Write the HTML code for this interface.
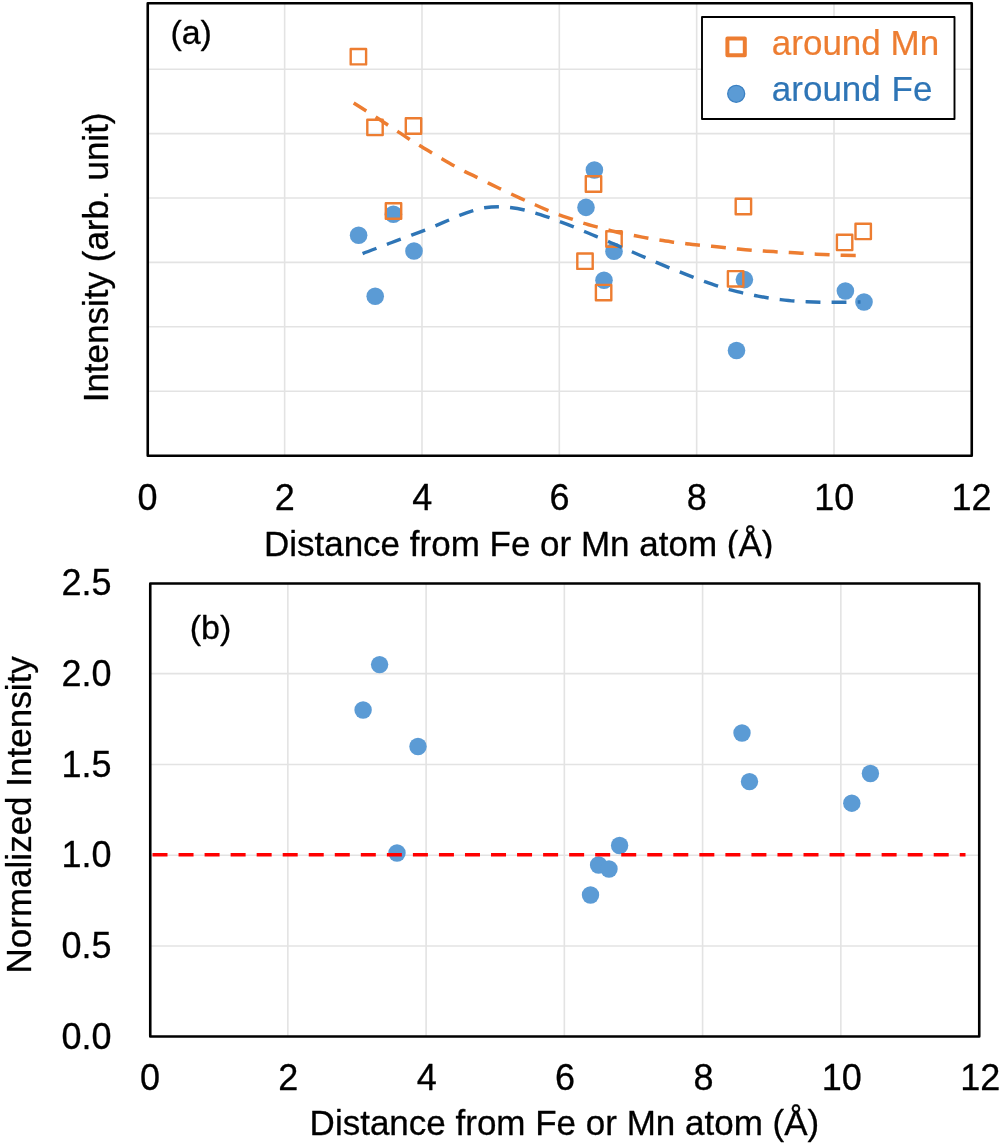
<!DOCTYPE html>
<html lang="en"><head><meta charset="utf-8"><title>Intensity vs distance from Fe or Mn atom</title>
<style>html,body{margin:0;padding:0;background:#fff}body{width:1000px;height:1147px;overflow:hidden}</style></head>
<body>
<svg width="1000" height="1147" viewBox="0 0 1000 1147" style="display:block;font-family:'Liberation Sans', Arial, Helvetica, sans-serif" fill="#000" stroke="#000" stroke-width="0.3" stroke-linejoin="round">
<rect x="0" y="0" width="1000" height="1147" fill="#fff" stroke="none"/>
<g stroke="#e3e3e3" stroke-width="1.6" fill="none">
<line x1="284.64" y1="3.25" x2="284.64" y2="455.75"/>
<line x1="421.98" y1="3.25" x2="421.98" y2="455.75"/>
<line x1="559.32" y1="3.25" x2="559.32" y2="455.75"/>
<line x1="696.66" y1="3.25" x2="696.66" y2="455.75"/>
<line x1="834.00" y1="3.25" x2="834.00" y2="455.75"/>
<line x1="147.75" y1="69.20" x2="971.75" y2="69.20"/>
<line x1="147.75" y1="133.60" x2="971.75" y2="133.60"/>
<line x1="147.75" y1="198.00" x2="971.75" y2="198.00"/>
<line x1="147.75" y1="262.40" x2="971.75" y2="262.40"/>
<line x1="147.75" y1="326.80" x2="971.75" y2="326.80"/>
<line x1="147.75" y1="391.20" x2="971.75" y2="391.20"/>
<line x1="287.85" y1="583.5" x2="287.85" y2="1036.5"/>
<line x1="426.10" y1="583.5" x2="426.10" y2="1036.5"/>
<line x1="564.35" y1="583.5" x2="564.35" y2="1036.5"/>
<line x1="702.60" y1="583.5" x2="702.60" y2="1036.5"/>
<line x1="840.85" y1="583.5" x2="840.85" y2="1036.5"/>
<line x1="150.25" y1="673.67" x2="979.25" y2="673.67"/>
<line x1="150.25" y1="764.44" x2="979.25" y2="764.44"/>
<line x1="150.25" y1="855.21" x2="979.25" y2="855.21"/>
<line x1="150.25" y1="945.98" x2="979.25" y2="945.98"/>
</g>
<g fill="#5B9BD5" stroke="none">
<circle cx="358.6" cy="235.2" r="8.8"/>
<circle cx="375.2" cy="296.3" r="8.8"/>
<circle cx="393.4" cy="214.3" r="8.8"/>
<circle cx="414" cy="251" r="8.8"/>
<circle cx="594.4" cy="170" r="8.8"/>
<circle cx="586" cy="207.4" r="8.8"/>
<circle cx="614" cy="251.3" r="8.8"/>
<circle cx="604" cy="280.2" r="8.8"/>
<circle cx="744.4" cy="279.6" r="8.8"/>
<circle cx="736.5" cy="350.5" r="8.8"/>
<circle cx="845.4" cy="291" r="8.8"/>
<circle cx="864" cy="302" r="8.8"/>
</g>
<g fill="none" stroke="#ED7D31" stroke-width="2.4" stroke-linejoin="round">
<rect x="350.70" y="49.00" width="15.4" height="15.4"/>
<rect x="367.30" y="119.70" width="15.4" height="15.4"/>
<rect x="405.80" y="118.30" width="15.4" height="15.4"/>
<rect x="385.80" y="203.30" width="15.4" height="15.4"/>
<rect x="585.80" y="176.30" width="15.4" height="15.4"/>
<rect x="577.30" y="253.50" width="15.4" height="15.4"/>
<rect x="606.30" y="231.30" width="15.4" height="15.4"/>
<rect x="595.90" y="284.90" width="15.4" height="15.4"/>
<rect x="735.70" y="198.80" width="15.4" height="15.4"/>
<rect x="727.90" y="271.10" width="15.4" height="15.4"/>
<rect x="836.90" y="234.70" width="15.4" height="15.4"/>
<rect x="855.50" y="223.70" width="15.4" height="15.4"/>
</g>
<path d="M353.7 103.1C355.9 104.5 362.8 108.8 366.7 111.3C370.6 113.8 373.6 115.6 377.2 118.0C380.8 120.3 385.0 123.2 388.5 125.5C392.0 127.8 394.6 129.5 398.2 131.9C401.8 134.2 406.6 137.4 410.2 139.8C413.8 142.1 416.2 143.5 420.0 145.8C423.8 148.0 429.0 151.2 432.7 153.4C436.4 155.6 438.5 156.8 442.2 158.9C445.9 161.1 451.0 164.1 454.8 166.2C458.6 168.3 461.6 169.8 465.0 171.6C468.4 173.3 469.3 173.7 475.0 176.4C480.7 179.2 491.5 184.6 499.0 188.2C506.5 191.8 513.9 195.2 520.0 198.1C526.1 200.9 530.8 202.9 535.6 205.0C540.4 207.2 544.9 209.1 549.0 210.8C553.1 212.5 556.0 213.6 560.0 215.1C564.0 216.5 569.0 218.1 573.0 219.5C577.0 220.8 579.8 222.0 584.0 223.3C588.2 224.6 593.7 226.1 598.0 227.3C602.3 228.5 605.8 229.4 610.0 230.4C614.2 231.4 618.8 232.6 623.0 233.5C627.2 234.4 631.1 235.0 635.4 235.8C639.7 236.6 644.7 237.6 649.0 238.4C653.3 239.1 656.8 239.7 661.0 240.3C665.2 241.0 669.7 241.6 674.0 242.2C678.3 242.7 682.3 243.1 686.6 243.7C690.9 244.2 695.8 244.8 700.0 245.2C704.2 245.6 707.6 245.9 712.0 246.3C716.4 246.8 722.0 247.4 726.4 247.9C730.8 248.4 734.1 248.6 738.4 249.1C742.7 249.5 748.1 250.0 752.4 250.4C756.7 250.7 759.7 250.8 764.0 251.1C768.3 251.3 774.1 251.7 778.4 252.0C782.7 252.2 785.7 252.3 790.0 252.5C794.3 252.8 800.0 253.2 804.4 253.4C808.8 253.7 812.1 254.0 816.4 254.2C820.7 254.4 826.1 254.7 830.4 254.9C834.7 255.1 838.0 255.2 842.4 255.3C846.8 255.4 854.6 255.4 857.0 255.4" fill="none" stroke="#ED7D31" stroke-width="3.5" stroke-dasharray="14.8 11.2"/>
<path d="M362.6 253.6C364.8 252.7 371.9 250.0 376.0 248.5C380.1 246.9 383.0 245.8 387.0 244.3C391.0 242.8 395.9 240.9 400.0 239.4C404.1 237.9 407.4 236.7 411.6 235.1C415.8 233.6 420.9 231.7 425.0 230.1C429.1 228.5 432.0 227.3 436.0 225.6C440.0 223.9 445.1 221.7 449.0 220.0C452.9 218.3 455.7 216.9 459.6 215.4C463.5 213.8 468.3 212.0 472.4 210.8C476.5 209.5 480.0 208.5 484.4 207.8C488.8 207.2 494.7 206.8 499.0 206.7C503.3 206.6 505.8 206.9 510.0 207.5C514.2 208.0 520.1 209.0 524.4 210.0C528.7 211.0 531.3 211.9 535.6 213.2C539.9 214.5 545.8 216.5 550.0 217.9C554.2 219.4 556.8 220.4 560.6 221.9C564.4 223.3 568.9 225.0 573.0 226.6C577.1 228.3 580.9 230.0 585.0 231.7C589.1 233.5 593.5 235.3 597.6 237.0C601.7 238.7 605.3 240.2 609.4 242.0C613.5 243.7 618.1 245.8 622.0 247.5C625.9 249.2 629.1 250.5 633.0 252.2C636.9 253.9 641.7 256.0 645.6 257.7C649.5 259.4 652.4 260.7 656.4 262.4C660.4 264.1 665.4 266.2 669.4 267.8C673.4 269.4 676.4 270.6 680.4 272.2C684.4 273.8 689.5 275.8 693.6 277.4C697.7 279.0 700.9 280.2 705.0 281.7C709.1 283.1 713.9 284.8 718.0 286.1C722.1 287.4 725.3 288.4 729.6 289.6C733.9 290.7 739.4 292.2 743.6 293.2C747.8 294.1 750.8 294.6 755.0 295.5C759.2 296.3 764.7 297.4 769.0 298.1C773.3 298.8 776.3 299.1 780.6 299.6C784.9 300.1 790.3 300.7 794.6 301.0C798.9 301.4 802.3 301.5 806.6 301.7C810.9 301.9 816.3 302.1 820.6 302.2C824.9 302.2 828.3 302.2 832.6 302.2C836.9 302.3 842.0 302.3 846.6 302.2C851.2 302.2 858.2 302.0 860.5 302.0" fill="none" stroke="#2E75B6" stroke-width="3.4" stroke-dasharray="14.8 11.2"/>
<rect x="147.75" y="3.25" width="824.0" height="452.5" fill="none" stroke="#000" stroke-width="2.6" stroke-linejoin="round"/>
<rect x="702" y="17" width="252.5" height="102" fill="#fff" stroke="#000" stroke-width="1.9"/>
<rect x="727.4" y="38.5" width="17.4" height="16.7" fill="#fff" stroke="#ED7D31" stroke-width="4"/>
<circle cx="736.2" cy="93.8" r="8.5" fill="#5B9BD5" stroke="#3B80C2" stroke-width="1.3"/>
<text x="771.8" y="54.9" font-size="35" fill="#ED7D31" stroke="#ED7D31" stroke-width="0.2">around Mn</text>
<text x="771.8" y="100.9" font-size="35" word-spacing="1" fill="#2E75B6" stroke="#2E75B6" stroke-width="0.2">around Fe</text>
<text x="170.4" y="43.5" font-size="34">(a)</text>
<g font-size="36" text-anchor="middle">
<text x="147.50" y="509.5">0</text>
<text x="284.84" y="509.5">2</text>
<text x="422.18" y="509.5">4</text>
<text x="559.52" y="509.5">6</text>
<text x="696.86" y="509.5">8</text>
<text x="834.20" y="509.5">10</text>
<text x="971.54" y="509.5">12</text>
</g>
<text x="518.7" y="556.1" font-size="35" text-anchor="middle">Distance from Fe or Mn atom (Å)</text>
<rect x="200" y="558.4" width="650" height="14" fill="#fff" stroke="none"/>
<text transform="translate(108.2 257.4) rotate(-90)" font-size="35" text-anchor="middle">Intensity (arb. unit)</text>
<g fill="#5B9BD5" stroke="none">
<circle cx="379.6" cy="664.6" r="8.7"/>
<circle cx="363.1" cy="710" r="8.7"/>
<circle cx="418" cy="746.5" r="8.7"/>
<circle cx="397" cy="853" r="8.7"/>
<circle cx="619.6" cy="845.5" r="8.7"/>
<circle cx="598.6" cy="865" r="8.7"/>
<circle cx="609" cy="869" r="8.7"/>
<circle cx="590.5" cy="895" r="8.7"/>
<circle cx="742" cy="733" r="8.7"/>
<circle cx="749.5" cy="781.6" r="8.7"/>
<circle cx="870.4" cy="773.5" r="8.7"/>
<circle cx="851.8" cy="803.2" r="8.7"/>
</g>
<line x1="152.5" y1="854.7" x2="965.5" y2="854.7" stroke="#FF0000" stroke-width="3.6" stroke-dasharray="15 11.04"/>
<rect x="150.25" y="583.5" width="829.0" height="453.0" fill="none" stroke="#000" stroke-width="2.6" stroke-linejoin="round"/>
<text x="189.8" y="638.8" font-size="34">(b)</text>
<g font-size="36" text-anchor="middle">
<text x="149.90" y="1090">0</text>
<text x="288.28" y="1090">2</text>
<text x="426.65" y="1090">4</text>
<text x="565.02" y="1090">6</text>
<text x="703.40" y="1090">8</text>
<text x="841.77" y="1090">10</text>
<text x="980.15" y="1090">12</text>
</g>
<g font-size="36" text-anchor="end">
<text x="111.5" y="595.10">2.5</text>
<text x="111.5" y="685.87">2.0</text>
<text x="111.5" y="776.64">1.5</text>
<text x="111.5" y="867.41">1.0</text>
<text x="111.5" y="958.18">0.5</text>
<text x="111.5" y="1048.95">0.0</text>
</g>
<text x="564.4" y="1135" font-size="35" text-anchor="middle">Distance from Fe or Mn atom (Å)</text>
<text transform="translate(31.0 814.9) rotate(-90)" font-size="35" text-anchor="middle">Normalized Intensity</text>
</svg>
</body></html>
